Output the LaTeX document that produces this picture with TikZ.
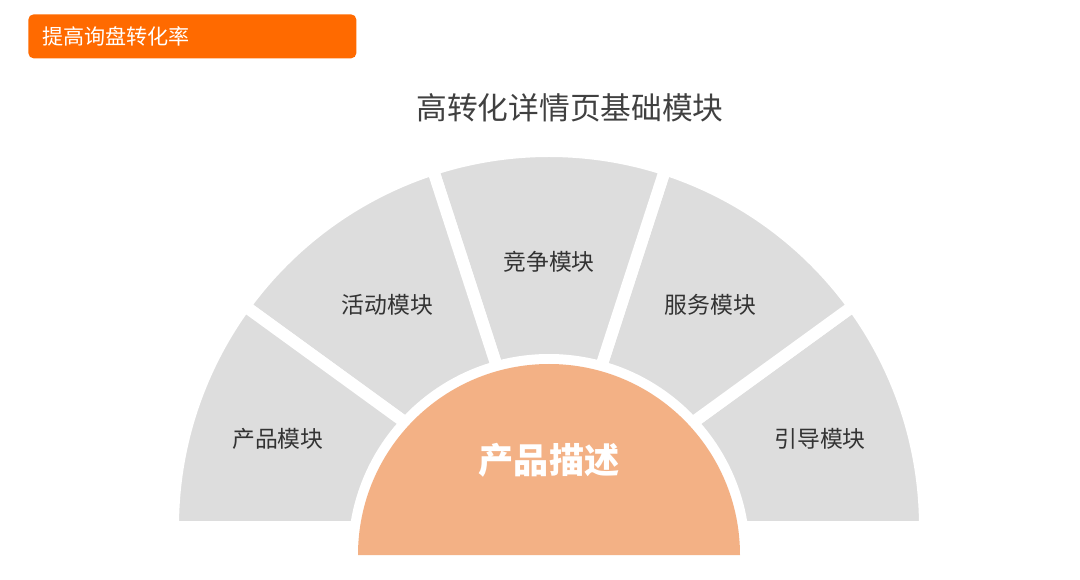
\documentclass[tikz,border=0pt]{standalone}
\usepackage{fontspec}
\usetikzlibrary{calc}
\newfontfamily\cjk{Noto Sans CJK SC}
\definecolor{tagorange}{HTML}{FF6A00}
\definecolor{segray}{HTML}{DDDDDD}
\definecolor{corefill}{HTML}{F3B185}
\begin{document}
\begin{tikzpicture}[x=0.02cm, y=0.02cm, font=\cjk,
  segment/.style={fill=segray, draw=white, line width=0.24cm, line join=miter},
  seglabel/.style={font=\cjk\fontsize{13}{15}\selectfont, text=black!80}]
	\useasboundingbox (0,0) rectangle (1080,579);

	% tag
	\node (tag) [fill=tagorange, rounded corners=3pt, minimum width=328*0.02cm, minimum height=44*0.02cm,
	  text=white, font=\cjk\fontsize{12}{14}\selectfont, inner xsep=6pt, anchor=north west, align=left,
	  text width=300*0.02cm] at (28,565) {提高询盘转化率};
	\node (title) [font=\cjk\fontsize{17.5}{20}\selectfont, text=black!75] at (570,471) {高转化详情页基础模块};

	% segments
	\foreach \a in {0,36,72,108,144}
		\filldraw[segment] (549,52) ++(\a:140) arc (\a:\a+36:140) -- ++(\a+36:236) arc (\a+36:\a:376) -- cycle;

	\node (s1) [seglabel] at ($(549,52)+(18:285)$) {引导模块};
	\node (s2) [seglabel] at ($(549,52)+(54:275)$) {服务模块};
	\node (s3) [seglabel] at ($(549,52)+(90:265)$) {竞争模块};
	\node (s4) [seglabel] at ($(549,52)+(126:275)$) {活动模块};
	\node (s5) [seglabel] at ($(549,52)+(162:285)$) {产品模块};

	% core
	\fill[white] (348,24) arc (180:0:201) -- cycle;
	\fill[corefill] (358,24) arc (180:0:191) -- cycle;
	\node (core) [text=white, font=\cjk\bfseries\fontsize{20}{24}\selectfont] at (549,119) {产品描述};
\end{tikzpicture}
\end{document}
